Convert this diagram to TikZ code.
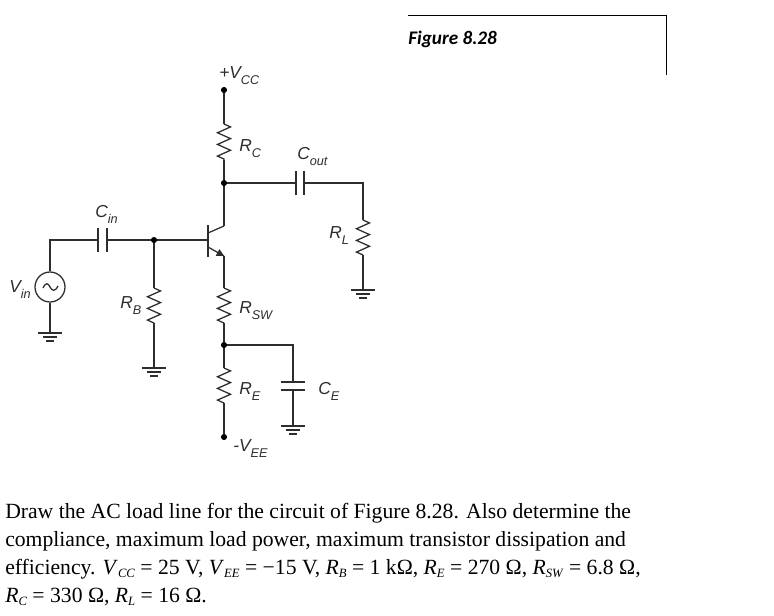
\documentclass[tikz,border=0pt]{standalone}
\usepackage{fontspec}
\setmainfont{Liberation Serif}
\newfontfamily\labelfont{Liberation Sans}
\newfontfamily\headfont{Carlito}
\usetikzlibrary{decorations.pathmorphing,arrows.meta}
\definecolor{MyWire}{RGB}{45, 45, 45}
\newcommand{\lw}{0.95pt}
\newcommand{\lab}[2]{{\itshape #1\raisebox{-4.5pt}{\fontsize{9.5}{11}\selectfont #2}}}
\newcommand{\sym}[2]{\textit{#1}\raisebox{-2pt}{\fontsize{9.5}{11}\selectfont\textit{#2}}}
\tikzset{
  wire/.style={draw=MyWire, line width=\lw},
  res/.style={wire, decorate, decoration={zigzag, segment length=8.75pt, amplitude=4.9pt}},
  plate/.style={draw=MyWire, line width=1.9pt},
  dot/.style={circle, fill=black, inner sep=0pt, minimum size=4.6pt},
  lbl/.style={text=MyWire, font=\labelfont\fontsize{13}{15}\selectfont, inner sep=0pt},
  gnd/.pic={
    \draw[wire] (-12,0) -- (12,0);
    \draw[wire] (-7,4) -- (7,4);
    \draw[wire] (-4,8) -- (4,8);
  }
}
\begin{document}
\begin{tikzpicture}[x=0.75pt, y=-0.75pt]
  \useasboundingbox (0,0) rectangle (774,615);
  % collector side
  \node[dot] (vcc)  at (224, 90) {};
  \node[dot] (jc)   at (224,183) {};
  \node[dot] (jb)   at (154,240) {};
  \node[dot] (je)   at (224,345) {};
  \node[dot] (vee)  at (224,437) {};
  \coordinate (rcT)  at (224,124);
  \coordinate (rcB)  at (224,160);
  \coordinate (rswT) at (224,288);
  \coordinate (rswB) at (224,323);
  \coordinate (reT)  at (224,368);
  \coordinate (reB)  at (224,403);
  \coordinate (rbT)  at (154,288);
  \coordinate (rbB)  at (154,323);
  \coordinate (rlT)  at (363,220);
  \coordinate (rlB)  at (363,255);
  \coordinate (rlC)  at (363,183);
  \coordinate (ceC)  at (293,345);
  \coordinate (cinL) at ( 98,240);
  \coordinate (cinR) at (107,240);
  \coordinate (coutL) at (296,183);
  \coordinate (coutR) at (304,183);
  \coordinate (ceT)  at (293,382);
  \coordinate (ceB)  at (293,390);
  \coordinate (vinC) at ( 50,240);
  \coordinate (base) at (208,240);
  \coordinate (cc)   at (224,226);
  \coordinate (ee)   at (224,256);
  \coordinate (gin)  at ( 50,333);
  \coordinate (gb)   at (154,368);
  \coordinate (gl)   at (363,290);
  \coordinate (ge)   at (293,426);
  \node[circle, draw=MyWire, line width=\lw, minimum size=22.5pt, inner sep=0pt] (vin) at (50,287) {};

  \draw[wire] (vcc) -- (rcT);
  \draw[res] (rcT) -- (rcB);
  \draw[wire] (rcB) -- (jc) -- (cc);
  \draw[wire] (jc) -- (coutL);
  \draw[wire] (coutR) -- (rlC) -- (rlT);
  \draw[res] (rlT) -- (rlB);
  \draw[wire] (rlB) -- (gl);
  \draw[wire] (vin) -- (vinC) -- (cinL);
  \draw[wire] (cinR) -- (jb) -- (base);
  \draw[wire] (jb) -- (rbT);
  \draw[res] (rbT) -- (rbB);
  \draw[wire] (rbB) -- (gb);
  \draw[wire] (vin) -- (gin);
  \draw[wire] (ee) -- (rswT);
  \draw[res] (rswT) -- (rswB);
  \draw[wire] (rswB) -- (je) -- (reT);
  \draw[res] (reT) -- (reB);
  \draw[wire] (reB) -- (vee);
  \draw[wire] (je) -- (ceC) -- (ceT);
  \draw[wire] (ceB) -- (ge);

  % transistor
  \draw[wire, line width=1.2pt] (208,225) -- (208,257);
  \draw[wire] (208,233) -- (cc);
  \draw[wire, -{Latex[length=6.5pt, width=6pt]}, shorten >=-1pt] (208,247) -- (ee);

  % plates
  \draw[plate] (98,228) -- (98,252);
  \draw[plate] (107,228) -- (107,252);
  \draw[plate] (296,171) -- (296,195);
  \draw[plate] (304,171) -- (304,195);
  \draw[plate] (281,382) -- (305,382);
  \draw[plate] (281,390) -- (305,390);

  % source
  \draw[wire] (43,288) .. controls (46,282) and (48,283) .. (50,287) .. controls (52,291) and (55,292) .. (58,286);

  \pic at (gin) {gnd};
  \pic at (gb) {gnd};
  \pic at (gl) {gnd};
  \pic at (ge) {gnd};

  \node[lbl, anchor=base west] (lvcc)  at (219, 78) {{\itshape +}\lab{V}{CC}};
  \node[lbl, anchor=base west] (lrc)   at (239,151) {\lab{R}{C}};
  \node[lbl, anchor=base west] (lcout) at (297,159) {\lab{C}{out}};
  \node[lbl, anchor=base west] (lcin)  at ( 95,217) {\lab{C}{in}};
  \node[lbl, anchor=base west] (lrl)   at (329,238) {\lab{R}{L}};
  \node[lbl, anchor=base west] (lvin)  at (  9,292) {\lab{V}{in}};
  \node[lbl, anchor=base west] (lrb)   at (120,308) {\lab{R}{B}};
  \node[lbl, anchor=base west] (lrsw)  at (239,313) {\lab{R}{SW}};
  \node[lbl, anchor=base west] (lre)   at (239,394) {\lab{R}{E}};
  \node[lbl, anchor=base west] (lce)   at (318,394) {\lab{C}{E}};
  \node[lbl, anchor=base west] (lvee)  at (233,451) {{\itshape -}\lab{V}{EE}};

  % header box
  \coordinate (hdA) at (408, 15);
  \coordinate (hdB) at (666, 15);
  \coordinate (hdC) at (666, 75);
  \draw[draw=black, line width=0.7pt] (hdA) -- (hdB) -- (hdC);
  \node[anchor=base west, inner sep=0pt, font=\headfont\bfseries\itshape\fontsize{14.4}{18}\selectfont] (head) at (408,44) {Figure 8.28};

  \node[anchor=north west, inner sep=0pt, align=left, font=\fontsize{16.25}{21.2}\selectfont] (task) at (5,502.5)
    {Draw the AC load line for the circuit of Figure 8.28. Also determine the\\
     compliance, maximum load power, maximum transistor dissipation and\\
     efficiency. \sym{V}{CC} = 25 V, \sym{V}{EE} = −15 V, \sym{R}{B} = 1 kΩ, \sym{R}{E} = 270 Ω, \sym{R}{SW} = 6.8 Ω,\\
     \sym{R}{C} = 330 Ω, \sym{R}{L} = 16 Ω.};
\end{tikzpicture}
\end{document}
